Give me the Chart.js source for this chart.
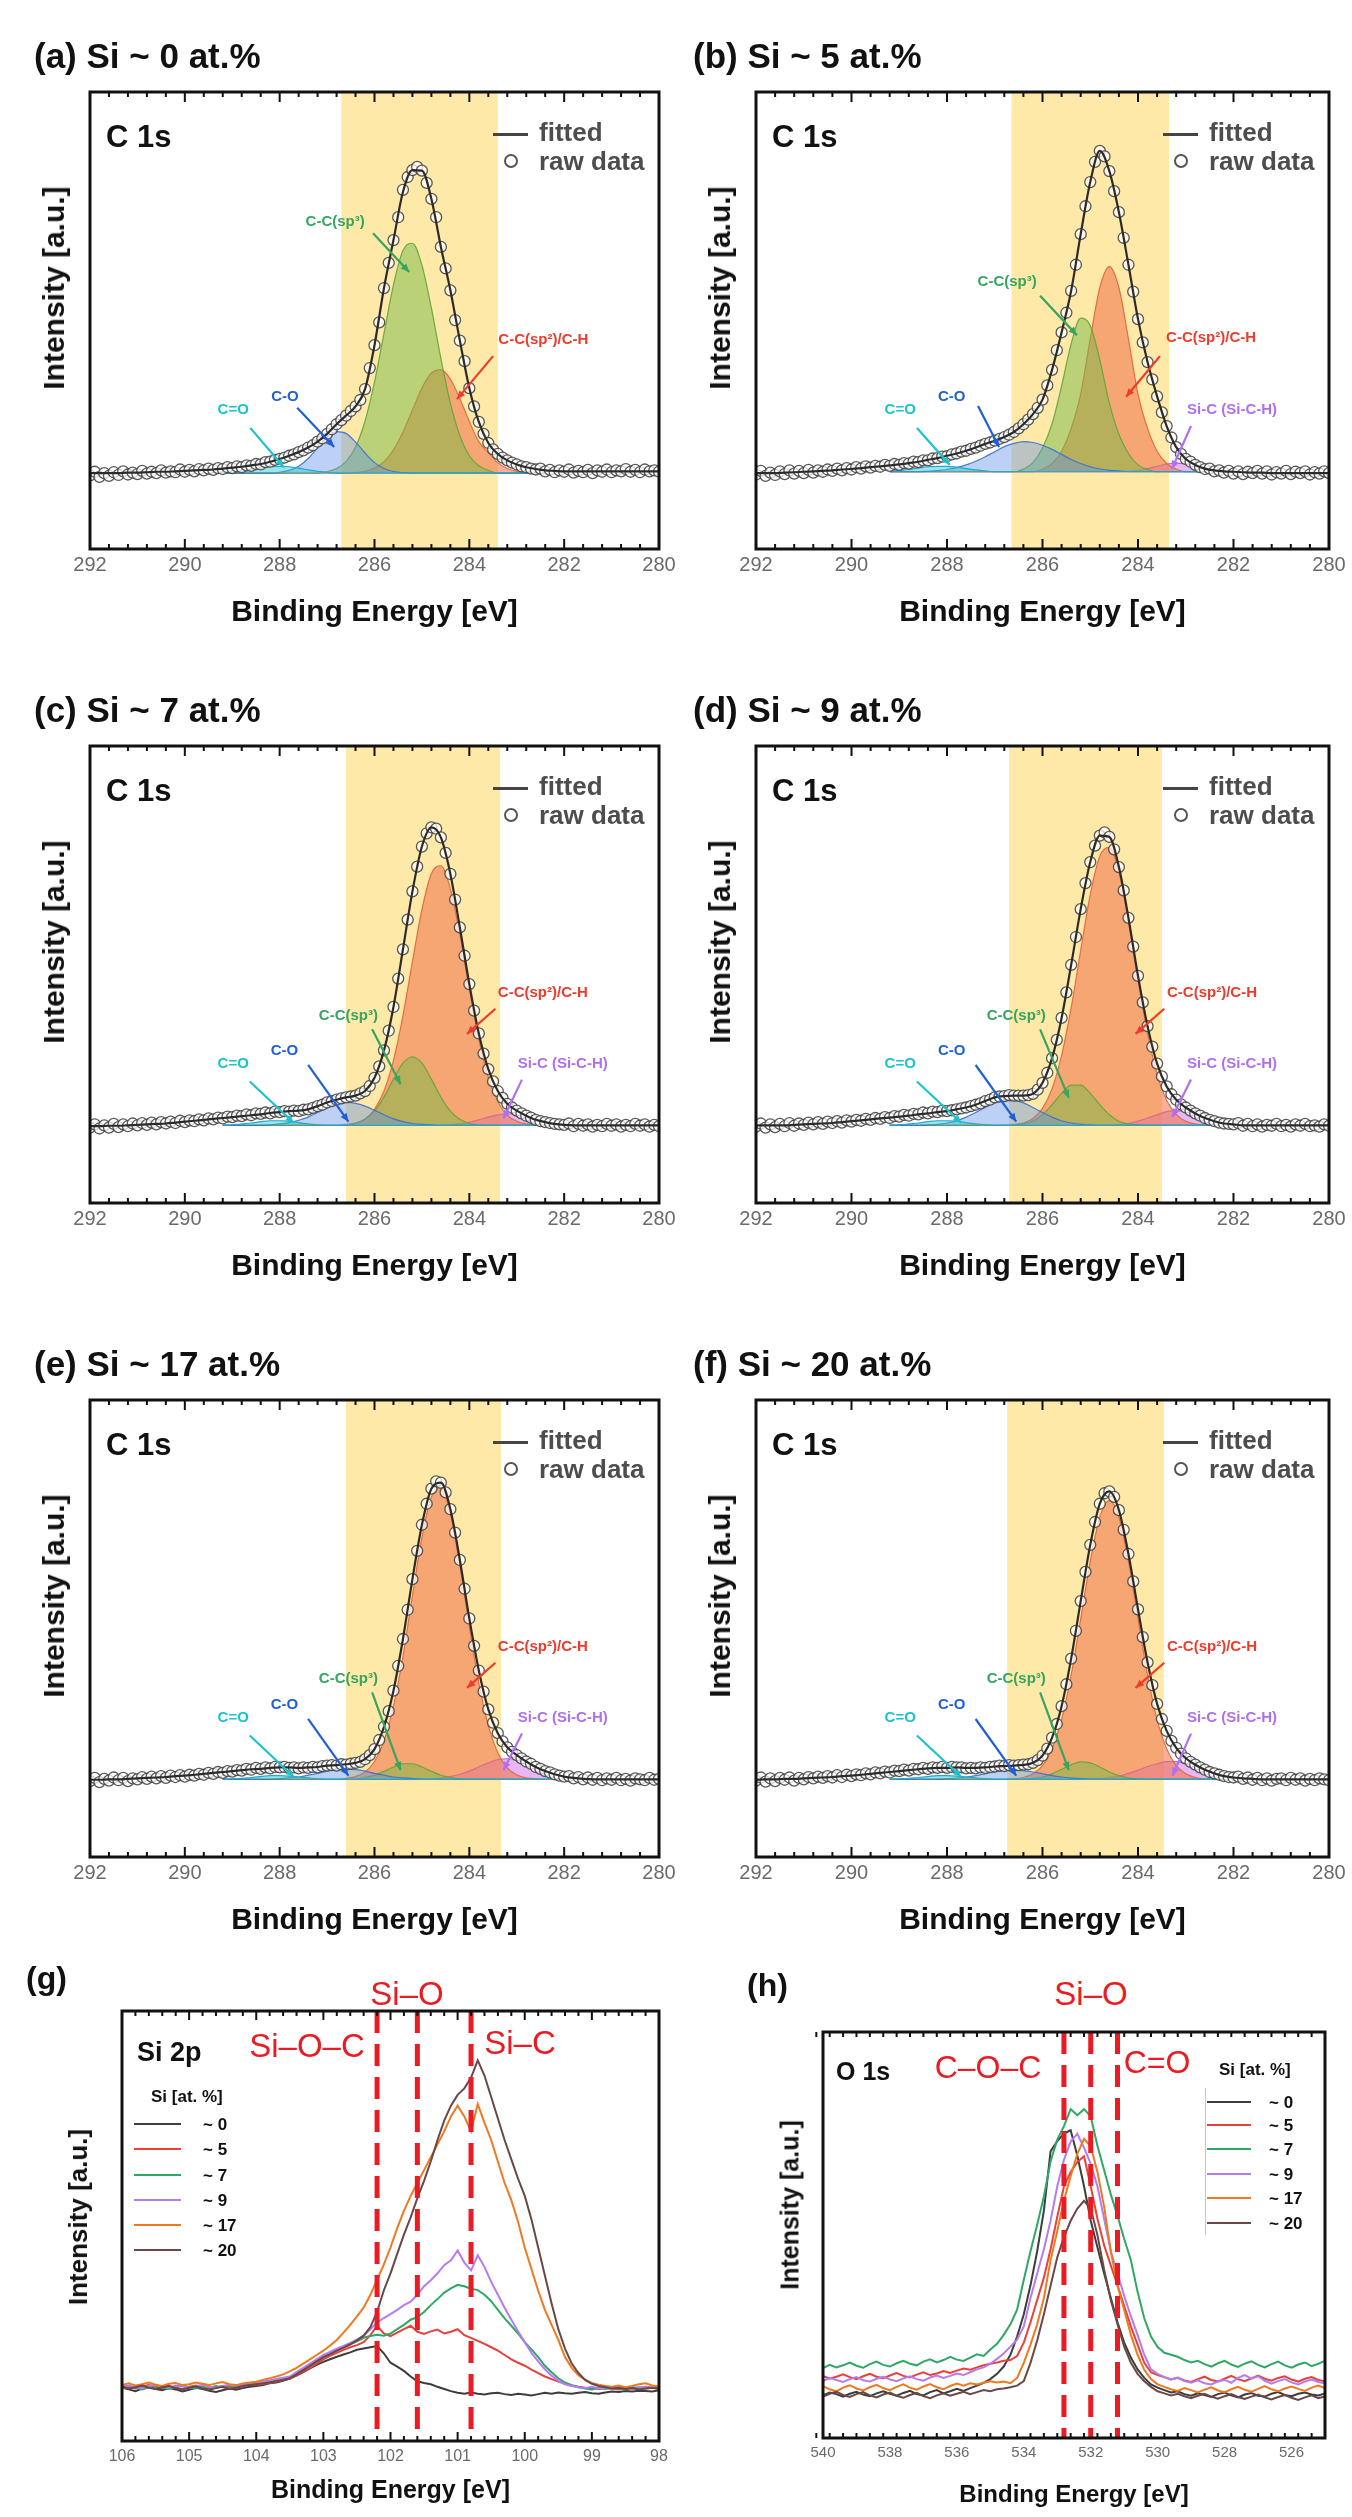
<!DOCTYPE html>
<html><head><meta charset="utf-8"><title>XPS spectra</title>
<script src="https://cdn.jsdelivr.net/npm/chart.js@4.4.1/dist/chart.umd.min.js"></script>
<style>
html,body{margin:0;padding:0;background:#fff}
body{position:relative;width:1352px;height:2517px;overflow:hidden;font-family:'Liberation Sans',Arial,Helvetica,sans-serif}
canvas{position:absolute}
.t{position:absolute;white-space:nowrap;line-height:1}
</style></head><body>
<script>
// ---------------- DATA ----------------
const c1sTicks = [292,290,288,286,284,282,280];
const si2pTicks = [106,105,104,103,102,101,100,99,98];
const o1sTicks = [540,538,536,534,532,530,528,526];
const siLabels = ['~ 0','~ 5','~ 7','~ 9','~ 17','~ 20'];
const panelTitles = ['(a) Si ~ 0 at.%','(b) Si ~ 5 at.%','(c) Si ~ 7 at.%','(d) Si ~ 9 at.%','(e) Si ~ 17 at.%','(f) Si ~ 20 at.%'];

// C 1s raw data: 292.0 -> 280.0 eV, step 0.1 (height above fit baseline, % of frame)
const rawA = [-0.5,0.3,-0.8,0.0,-0.6,0.2,-0.4,0.4,-0.3,0.1,
 -0.2,0.5,-0.1,0.3,0.0,0.6,0.1,0.4,0.2,0.8,
 0.3,0.7,0.4,0.9,0.6,1.0,0.7,1.1,0.9,1.3,
 1.1,1.5,1.3,1.7,1.6,2.0,1.9,2.4,2.5,2.9,
 3.1,3.4,3.8,4.1,4.6,5.0,5.6,6.1,6.9,7.6,
 8.6,9.6,10.7,11.6,12.6,13.6,14.6,16.0,18.4,23.0,
 28.0,33.0,40.5,46.0,51.0,56.0,62.0,64.8,66.3,67.0,
 66.2,63.5,60.0,56.0,49.5,44.8,40.0,33.5,29.0,24.5,
 18.6,14.6,11.2,8.6,6.6,5.2,4.2,3.4,2.8,2.3,
 1.9,1.5,1.3,1.0,0.8,1.0,0.4,0.7,0.2,0.6,
 0.3,0.8,0.1,0.5,0.2,0.7,0.0,0.6,0.3,0.8,
 0.2,0.6,0.4,0.9,0.3,0.7,0.2,0.8,0.4,0.6,
 0.3];
const rawB = [-0.6,0.2,-0.9,-0.2,-0.7,0.1,-0.5,0.3,-0.4,0.2,
 -0.3,0.4,-0.2,0.3,0.0,0.5,0.2,0.7,0.3,0.8,
 0.5,1.0,0.7,1.2,0.9,1.3,1.1,1.5,1.3,1.7,
 1.5,1.9,1.8,2.2,2.1,2.5,2.5,2.9,3.0,3.3,
 3.4,3.8,4.0,4.4,4.6,5.0,5.3,5.7,6.1,6.4,
 6.8,7.2,7.6,8.1,8.7,9.5,10.4,11.4,12.6,14.0,
 15.8,18.9,22.3,26.6,30.5,34.8,39.6,45.3,52.0,58.1,
 63.4,67.8,70.2,69.0,65.8,61.4,56.8,51.2,45.3,39.4,
 33.4,28.3,24.0,20.2,16.5,13.0,10.0,7.5,5.4,3.9,
 2.8,2.2,1.5,1.0,0.6,0.7,0.1,0.3,-0.2,0.2,
 -0.4,0.1,-0.5,0.0,-0.3,0.2,-0.4,0.1,-0.6,-0.1,
 -0.4,0.2,-0.5,0.0,-0.3,0.1,-0.6,-0.1,-0.4,0.1,
 -0.3];
const rawC = [-0.5,0.2,-0.7,0.0,-0.5,0.3,-0.4,0.2,-0.2,0.4,
 0.0,0.5,0.1,0.6,0.2,0.7,0.4,0.8,0.5,1.0,
 0.7,1.1,0.9,1.3,1.1,1.5,1.3,1.7,1.5,1.9,
 1.8,2.1,2.0,2.4,2.2,2.6,2.5,2.8,2.6,3.0,
 2.9,3.1,3.0,3.2,3.1,3.4,3.5,3.8,4.2,4.5,
 5.0,5.3,5.6,5.9,6.1,6.3,6.5,7.0,7.5,8.6,
 10.4,12.9,16.4,20.7,25.9,32.1,38.5,45.0,51.2,56.6,
 61.0,63.9,65.2,64.9,63.0,59.6,55.0,49.4,43.3,37.1,
 30.9,25.1,20.1,15.7,12.3,9.6,7.5,6.0,4.7,3.9,
 3.2,2.6,2.1,1.7,1.2,0.9,0.7,0.5,0.3,0.2,
 0.1,0.4,-0.2,0.3,-0.1,0.2,-0.3,0.1,-0.2,0.3,
 -0.1,0.2,-0.3,0.1,-0.2,0.3,-0.1,0.2,-0.3,0.1,
 -0.2];
const rawD = [-0.3,0.4,-0.5,0.2,-0.4,0.3,-0.2,0.5,-0.1,0.4,
 0.1,0.6,0.2,0.7,0.3,0.8,0.5,0.9,0.6,1.1,
 0.8,1.2,1.0,1.4,1.2,1.6,1.4,1.8,1.6,2.0,
 1.9,2.3,2.1,2.5,2.4,2.8,2.6,3.0,2.9,3.2,
 3.1,3.3,3.5,3.7,3.9,4.2,4.5,4.8,5.3,5.6,
 6.1,6.3,6.4,6.6,6.5,6.5,6.5,6.6,6.9,7.8,
 9.3,11.5,14.7,18.7,23.5,29.1,35.1,41.2,47.3,53.0,
 57.6,61.2,63.4,64.1,63.1,60.4,56.5,51.4,45.4,39.1,
 32.7,26.9,21.7,17.2,13.5,10.7,8.5,6.8,5.6,4.6,
 3.9,3.2,2.6,2.1,1.6,1.2,0.9,0.6,0.4,0.3,
 0.2,0.5,-0.1,0.3,-0.2,0.2,-0.3,0.1,-0.1,0.3,
 -0.2,0.1,-0.3,0.2,-0.1,0.3,-0.2,0.0,-0.3,0.2,
 -0.1];
const rawE = [-0.4,0.3,-0.6,0.1,-0.3,0.4,-0.2,0.3,-0.4,0.2,
 0.0,0.5,0.1,0.6,0.2,0.7,0.3,0.8,0.5,0.9,
 0.6,1.0,0.8,1.2,1.0,1.4,1.2,1.6,1.4,1.8,
 1.7,2.0,1.9,2.3,2.1,2.5,2.3,2.6,2.4,2.7,
 2.6,2.7,2.5,2.6,2.4,2.6,2.5,2.7,2.6,2.9,
 3.0,3.1,3.0,3.3,3.2,3.4,3.6,3.8,4.4,5.3,
 6.6,8.6,11.5,14.9,19.4,24.8,30.7,37.1,43.8,50.0,
 55.7,60.3,63.6,65.2,64.9,62.8,59.1,54.0,48.0,41.7,
 35.2,29.2,23.8,19.2,15.3,12.4,10.1,8.3,7.0,6.0,
 5.3,4.6,3.9,3.4,2.7,2.3,1.8,1.5,1.1,0.8,
 0.6,0.7,0.2,0.5,0.0,0.4,-0.1,0.3,-0.2,0.2,
 -0.1,0.3,-0.2,0.1,-0.3,0.2,0.0,-0.2,0.3,-0.1,
 0.1];
const rawF = [-0.3,0.4,-0.5,0.2,-0.4,0.3,-0.1,0.4,-0.3,0.3,
 0.0,0.5,0.2,0.6,0.3,0.7,0.4,0.9,0.5,1.0,
 0.7,1.1,0.9,1.3,1.1,1.5,1.3,1.7,1.5,1.9,
 1.8,2.1,1.9,2.3,2.2,2.5,2.3,2.6,2.5,2.7,
 2.5,2.7,2.6,2.6,2.4,2.5,2.4,2.6,2.5,2.7,
 2.8,3.0,2.9,3.1,3.0,3.1,3.2,3.3,3.6,4.2,
 5.2,6.7,9.1,12.1,16.0,20.8,26.4,32.5,39.0,45.4,
 51.3,56.3,60.3,62.6,63.0,61.8,58.9,54.6,49.3,43.3,
 37.2,31.1,25.6,20.6,16.5,13.2,10.6,8.4,6.9,5.6,
 4.6,3.8,3.2,2.6,2.1,1.6,1.3,1.0,0.7,0.5,
 0.4,0.6,0.1,0.4,-0.1,0.3,-0.2,0.2,-0.3,0.1,
 0.2,-0.2,0.3,-0.1,0.2,-0.3,0.1,-0.2,0.2,0.0,
 -0.2];

// C 1s fitted envelope: 292.0 -> 280.0 eV, step 0.2
const fitA = [0,0,0,0,0.1,0.1,0.2,0.3,0.3,0.4,
 0.5,0.6,0.7,0.8,1.0,1.2,1.4,1.7,2.0,2.5,
 3.1,3.8,4.6,5.6,6.9,8.6,10.7,12.6,14.6,18.4,
 28.0,40.5,51.0,61.5,66.3,66.2,60.0,49.5,40.0,29.0,
 18.6,11.2,6.6,4.2,2.8,1.9,1.3,0.9,0.6,0.5,
 0.4,0.4,0.4,0.4,0.4,0.4,0.4,0.4,0.4,0.4,0.4];
const fitB = [-0.3,-0.3,-0.3,-0.2,-0.1,0,0.1,0.2,0.3,0.5,
 0.6,0.8,1.0,1.2,1.4,1.6,1.9,2.2,2.6,3.0,
 3.5,4.0,4.6,5.3,6.1,6.8,7.6,8.7,10.4,12.6,
 15.8,22.3,30.5,39.6,52.0,63.4,70.2,65.8,56.8,45.3,
 33.4,24.0,16.5,10.0,5.4,2.8,1.5,0.7,0.3,0.1,
 0,-0.1,-0.2,-0.2,-0.3,-0.3,-0.3,-0.3,-0.3,-0.3,-0.3];
const fitC = [-0.2,-0.2,-0.1,-0.1,0,0.1,0.2,0.3,0.4,0.6,
 0.8,1.0,1.2,1.4,1.6,1.8,2.0,2.2,2.4,2.7,
 2.9,3.1,3.2,3.5,4.2,5.0,5.6,6.1,6.5,7.5,
 10.4,16.4,25.9,38.5,51.2,61.0,65.2,63.0,55.0,43.3,
 30.9,20.1,12.3,7.5,4.7,3.2,2.1,1.2,0.7,0.3,
 0.1,0,0,0,0,0,0,0,0,0,0];
const fitD = [0,0,0,0,0.1,0.2,0.3,0.4,0.5,0.7,
 0.9,1.1,1.3,1.5,1.7,1.9,2.1,2.4,2.6,2.9,
 3.1,3.5,3.9,4.5,5.3,6.1,6.4,6.5,6.5,6.9,
 9.3,14.7,23.5,35.1,47.3,57.6,63.4,63.1,56.5,45.4,
 32.7,21.7,13.5,8.5,5.6,3.9,2.6,1.6,0.9,0.4,
 0.2,0,0,0,0,0,0,0,0,0,0];
const fitE = [-0.1,-0.1,0,0,0.1,0.2,0.3,0.4,0.5,0.7,
 0.8,1.0,1.2,1.4,1.6,1.8,2.0,2.2,2.3,2.5,
 2.6,2.6,2.5,2.6,2.7,3.0,3.1,3.3,3.6,4.4,
 6.6,11.5,19.4,30.7,43.8,55.7,63.6,64.9,59.1,48.0,
 35.2,23.8,15.3,10.1,7.0,5.3,3.9,2.7,1.8,1.1,
 0.6,0.3,0.1,0,0,0,0,0,0,0,0];
const fitF = [-0.1,0,0,0.1,0.1,0.2,0.3,0.4,0.5,0.7,
 0.8,1.0,1.2,1.4,1.6,1.8,2.0,2.2,2.4,2.5,
 2.5,2.6,2.5,2.5,2.6,2.8,2.9,3.0,3.15,3.6,
 5.2,9.1,16.0,26.4,39.0,51.3,60.3,63.0,58.9,49.3,
 37.2,25.6,16.5,10.6,6.9,4.6,3.2,2.1,1.3,0.7,
 0.4,0.2,0.1,0,0,0,0,0,0,0,0];

// Fitted components: 289.2 -> 282.0 eV, step 0.2
const sp3A = [0,0,0,0,0,0,0,0,0,0,0,0.3,1.0,2.5,5.7,11.4,19.9,30.6,41.2,48.7,50.3,45.5,36.1,25.1,15.3,8.2,3.8,1.6,0.6,0,0,0,0,0,0,0,0];
const sp2A = [0,0,0,0,0,0,0,0,0,0,0,0,0,0,0.1,0.4,1.1,2.5,5.1,9.0,13.8,18.6,21.9,22.6,20.6,16.3,11.3,6.9,4.5,2.3,1.0,0.4,0,0,0,0,0];
const coA  = [0,0,0,0,0,0,0.2,0.6,1.5,3.2,5.6,7.9,9.1,8.7,6.8,4.4,2.3,1.0,0.35,0.1,0,0,0,0,0,0,0,0,0,0,0,0,0,0,0,0,0];
const c2oA = [0,0.2,0.4,0.7,1.1,1.4,1.5,1.4,1.1,0.7,0.4,0.2,0,0,0,0,0,0,0,0,0,0,0,0,0,0,0,0,0,0,0,0,0,0,0,0,0];

const sp3B = [0,0,0,0,0,0,0,0,0,0,0,0,0,0,0.6,2.0,5.2,10.5,18.8,28.0,33.6,32.0,24.5,15.0,8.2,4.0,1.5,0.5,0,0,0,0,0,0,0,0,0];
const sp2B = [0,0,0,0,0,0,0,0,0,0,0,0,0,0,0,0,0.6,1.8,4.5,9.5,17.0,29.1,40.3,44.9,40.3,29.1,17.0,9.5,4.5,1.8,0.6,0,0,0,0,0,0];
const coB  = [0,0,0,0,0.1,0.25,0.5,0.9,1.5,2.3,3.3,4.4,5.5,6.2,6.6,6.4,5.8,4.9,3.8,2.7,1.8,1.1,0.6,0.3,0.2,0,0,0,0,0,0,0,0,0,0,0,0];
const c2oB = [0.1,0.3,0.5,0.8,1.1,1.2,1.2,1.0,0.7,0.4,0.2,0,0,0,0,0,0,0,0,0,0,0,0,0,0,0,0,0,0,0,0,0,0,0,0,0,0];
const sicB = [0,0,0,0,0,0,0,0,0,0,0,0,0,0,0,0,0,0,0,0,0,0,0,0,0,0.1,0.3,0.7,1.2,1.7,1.9,1.7,1.2,0.7,0.3,0.1,0];

const sp3C = [0,0,0,0,0,0,0,0,0,0,0,0,0,0,0.4,1.3,3.1,6.2,10.1,13.6,15,13.6,10.1,6.2,3.1,1.3,0.4,0.1,0,0,0,0,0,0,0,0,0];
const sp2C = [0,0,0,0,0,0,0,0,0,0,0,0,0,0.2,0.5,1.4,3.5,7.5,14.2,24.0,35.8,47.2,55.1,56.8,51.8,41.7,29.8,18.8,10.5,5.2,2.2,0.9,0.3,0.1,0,0,0];
const coC  = [0,0,0,0,0,0.1,0.3,0.6,1.1,1.8,2.8,3.8,4.6,5.0,4.8,4.2,3.3,2.3,1.4,0.8,0.4,0.2,0.1,0,0,0,0,0,0,0,0,0,0,0,0,0,0];
const c2oC = [0,0.1,0.3,0.5,0.8,1.0,1.0,0.9,0.6,0.3,0.1,0,0,0,0,0,0,0,0,0,0,0,0,0,0,0,0,0,0,0,0,0,0,0,0,0,0];
const sicC = [0,0,0,0,0,0,0,0,0,0,0,0,0,0,0,0,0,0,0,0,0,0,0,0,0.1,0.3,0.7,1.2,1.8,2.3,2.5,2.3,1.8,1.2,0.7,0.3,0.1];

const sp3D = [0,0,0,0,0,0,0,0,0,0,0,0,0,0,0.3,0.9,2.3,4.5,7.0,8.8,8.8,7.0,4.5,2.3,0.9,0.3,0.1,0,0,0,0,0,0,0,0,0,0];
const sp2D = [0,0,0,0,0,0,0,0,0,0,0,0,0,0.2,0.5,1.5,3.7,8.0,15.3,25.7,38.3,50.5,58.9,60.8,55.4,44.7,31.8,20.1,11.2,5.5,2.4,0.9,0.3,0.1,0,0,0];
const coD  = [0,0,0,0,0.1,0.2,0.5,1.0,1.8,2.8,3.9,4.9,5.4,5.4,4.9,3.9,2.8,1.8,1.0,0.5,0.2,0.1,0,0,0,0,0,0,0,0,0,0,0,0,0,0,0];
const c2oD = [0,0.1,0.3,0.5,0.8,1.0,1.0,0.9,0.6,0.3,0.1,0,0,0,0,0,0,0,0,0,0,0,0,0,0,0,0,0,0,0,0,0,0,0,0,0,0];
const sicD = [0,0,0,0,0,0,0,0,0,0,0,0,0,0,0,0,0,0,0,0,0,0,0,0,0.2,0.4,0.9,1.6,2.3,3.0,3.2,3.0,2.3,1.6,0.9,0.4,0.2];

const sp3E = [0,0,0,0,0,0,0,0,0,0,0,0,0,0,0,0.4,0.9,1.75,2.7,3.4,3.4,2.7,1.75,0.9,0.4,0.1,0,0,0,0,0,0,0,0,0,0,0];
const sp2E = [0,0,0,0,0,0,0,0,0,0,0,0,0,0.2,0.6,1.6,3.9,8.4,16.0,26.9,40.2,53.0,61.8,63.7,58.1,46.8,33.4,21.1,11.7,5.8,2.5,1.0,0.3,0.1,0,0,0];
const coE  = [0,0,0,0,0,0,0.15,0.3,0.5,0.9,1.3,1.8,2.1,2.2,2.1,1.8,1.3,0.9,0.5,0.3,0.15,0.05,0,0,0,0,0,0,0,0,0,0,0,0,0,0,0];
const c2oE = [0,0.1,0.2,0.4,0.6,0.8,0.8,0.7,0.5,0.3,0.1,0,0,0,0,0,0,0,0,0,0,0,0,0,0,0,0,0,0,0,0,0,0,0,0,0,0];
const sicE = [0,0,0,0,0,0,0,0,0,0,0,0,0,0,0,0,0,0,0,0,0,0,0.1,0.3,0.6,1.1,1.8,2.7,3.6,4.3,4.5,4.3,3.6,2.7,1.8,1.1,0.6];

const sp3F = [0,0,0,0,0,0,0,0,0,0,0,0,0,0,0,0.2,0.5,1.2,2.2,3.2,3.8,3.6,2.7,1.6,0.8,0.3,0.1,0,0,0,0,0,0,0,0,0,0];
const sp2F = [0,0,0,0,0,0,0,0,0,0,0,0,0,0.1,0.4,1.2,3.0,6.7,13.1,22.8,35.1,47.7,57.4,61,57.4,47.7,35.1,22.8,13.1,6.7,3.0,1.2,0.4,0.1,0,0,0];
const coF  = [0,0,0,0,0,0,0.13,0.27,0.5,0.8,1.2,1.6,1.9,2.0,1.9,1.6,1.2,0.8,0.5,0.27,0.13,0.05,0,0,0,0,0,0,0,0,0,0,0,0,0,0,0];
const c2oF = [0,0.1,0.2,0.4,0.6,0.8,0.8,0.7,0.5,0.3,0.1,0,0,0,0,0,0,0,0,0,0,0,0,0,0,0,0,0,0,0,0,0,0,0,0,0,0];
const sicF = [0,0,0,0,0,0,0,0,0,0,0,0,0,0,0,0,0,0,0,0,0,0.05,0.17,0.4,0.7,1.3,2.0,2.8,3.4,3.85,3.85,3.4,2.8,2.0,1.3,0.7,0.4];

// highlighted (yellow) energy windows
const bandA = [286.7,283.4], bandB = [286.65,283.35], bandC = [286.6,283.35];
const bandD = [286.7,283.5], bandE = [286.6,283.33], bandF = [286.74,283.46];

// Si 2p: 106.0 -> 98.0 eV, step 0.1 (% of frame height)
const si2p0 = [12.4,12.0,11.6,12.2,12.6,12.1,11.8,12.3,12.0,11.5,
 11.9,12.4,12.1,11.7,11.4,11.8,12.2,11.9,12.3,12.6,
 12.8,13.0,13.4,13.6,14.0,14.5,15.2,16.0,16.9,17.7,
 18.4,19.0,19.6,20.1,20.6,21.2,21.5,21.8,22.1,20.4,
 18.2,17.3,16.3,15.0,13.9,13.5,13.2,12.6,12.1,11.6,
 11.2,11.0,11.3,11.0,10.8,11.1,11.2,10.9,10.7,11.0,
 10.8,10.6,10.9,11.2,11.0,11.3,11.1,11.0,11.2,11.4,
 11.1,11.0,11.3,11.5,11.4,11.6,11.5,11.7,11.6,11.5,11.8];
const si2p5 = [12.9,12.5,12.2,12.7,13.0,12.6,12.3,12.8,12.4,12.1,
 12.6,12.9,12.5,12.2,12.4,12.8,12.6,12.3,12.7,13.0,
 13.1,13.3,13.5,13.8,14.1,14.5,15.3,16.2,17.0,18.0,
 19.0,19.8,20.5,21.2,21.8,22.3,23.0,24.6,26.8,25.0,
 24.4,25.2,26.0,26.8,25.4,24.9,25.5,25.9,25.0,25.4,
 26.0,24.6,24.0,23.3,22.6,21.8,21.0,20.0,19.0,18.2,
 17.5,16.6,15.8,15.0,14.4,13.8,13.3,12.9,12.6,12.4,
 12.3,12.1,12.4,12.2,12.0,12.3,12.5,12.2,12.6,12.4,12.3];
const si2p7 = [12.2,12.7,12.4,12.0,12.5,12.8,12.4,12.1,12.6,12.9,
 12.5,12.2,12.6,12.4,12.8,12.5,12.3,12.7,12.9,13.1,
 13.3,13.5,13.8,14.1,14.4,14.8,15.7,16.6,17.5,18.5,
 19.5,20.2,21.0,21.8,22.5,23.2,24.0,24.4,24.7,24.5,
 25.0,26.0,27.0,28.2,28.8,30.0,31.6,33.0,34.5,35.5,
 36.3,36.0,35.4,35.1,34.0,32.5,30.5,28.5,26.8,25.0,
 23.0,21.3,19.5,17.5,16.0,14.6,13.6,13.0,12.5,12.2,
 12.0,12.3,12.1,12.4,12.2,12.0,12.3,12.5,12.2,12.4,12.1];
const si2p9 = [12.6,12.9,12.5,12.3,12.8,13.0,12.6,12.4,12.9,12.7,
 12.4,12.8,13.0,12.6,12.4,12.8,13.1,12.9,13.2,13.4,
 13.6,13.8,14.1,14.4,14.7,15.0,16.0,17.0,18.0,19.0,
 20.0,20.7,21.5,22.1,22.8,23.6,24.5,26.0,27.6,28.6,
 29.5,30.5,31.6,32.4,34.0,36.0,37.4,39.0,40.9,42.0,
 44.3,41.5,39.7,43.2,40.5,37.0,34.0,31.0,28.2,25.5,
 23.0,20.5,18.5,16.7,15.2,14.0,13.2,12.8,12.5,12.3,
 12.6,12.2,12.4,12.1,12.5,12.3,12.1,12.4,12.6,12.3,12.5];
const si2p17 = [13.0,13.4,12.9,13.2,13.6,13.1,12.8,13.3,13.5,13.0,
 13.2,13.6,13.3,13.0,13.4,13.7,13.2,13.0,13.4,13.6,
 13.8,14.2,14.6,15.0,15.5,16.2,17.0,18.0,19.0,20.0,
 21.0,22.2,23.5,25.2,27.0,29.0,31.0,34.0,37.5,41.0,
 45.0,49.5,53.5,57.0,60.0,63.0,66.0,69.0,72.0,75.5,
 78.0,75.5,72.0,78.4,74.0,70.0,65.0,60.0,56.0,51.0,
 45.0,40.0,35.0,30.5,27.0,23.5,19.5,17.0,15.3,14.2,
 13.5,13.1,12.8,12.6,12.9,12.5,12.8,13.2,13.4,12.9,12.7];
const si2p20 = [12.6,12.2,12.5,12.9,12.4,12.1,12.5,12.8,12.3,12.0,
 12.4,12.7,12.2,11.9,12.3,12.6,12.1,12.4,12.8,13.0,
 13.2,13.4,13.6,13.9,14.2,14.6,15.5,16.5,17.5,18.5,
 19.5,20.2,21.0,21.7,22.5,23.4,24.5,26.5,30.0,35.0,
 39.0,43.5,48.0,52.0,56.5,60.5,65.0,70.0,74.5,78.0,
 80.5,82.0,84.5,88.5,85.0,80.0,75.0,70.0,65.5,61.0,
 57.0,51.5,45.0,38.5,32.0,26.0,21.5,18.0,15.8,14.2,
 13.3,12.8,12.5,12.2,12.4,12.1,12.3,12.0,12.2,12.4,12.2];
const si2pRefs = [102.2,101.6,100.8];

// O 1s: 540.0 -> 525.0 eV, step 0.2 (% of frame height)
const o1s0 = [10.5,11.2,10.8,10.2,10.9,11.4,10.7,10.3,11.0,11.5,
 10.9,10.4,11.1,11.6,10.8,10.5,11.3,11.8,11.0,11.5,
 12.1,11.6,12.3,12.9,13.6,14.5,15.8,17.6,20.5,25.0,
 30.5,37.6,46.0,56.0,70.6,73.1,75.0,75.8,69.5,62.0,
 53.5,47.0,40.5,34.5,28.5,23.5,19.8,16.9,14.8,13.2,
 12.4,11.8,11.2,11.5,10.8,10.4,11.0,10.6,10.1,10.8,
 11.2,10.5,10.0,10.7,11.1,10.4,10.2,10.9,11.3,10.6,
 10.3,10.9,11.2,10.7,10.5,11.0];
const o1s5 = [15.3,14.6,15.1,15.7,15.0,14.5,15.2,15.8,15.1,14.7,
 15.4,16.0,15.3,14.9,15.6,16.2,15.5,15.9,16.5,16.0,
 16.6,17.1,16.8,17.4,17.9,18.3,18.6,19.0,19.2,20.2,
 23.5,28.5,34.0,39.5,46.5,54.5,62.0,65.5,68.0,69.4,
 62.0,54.0,47.5,42.5,37.6,32.5,27.5,23.0,18.5,16.2,
 15.5,15.0,14.4,14.9,14.2,13.8,14.5,15.1,14.3,13.9,
 14.6,15.3,14.5,14.0,14.7,15.4,14.6,14.1,14.8,15.2,
 14.4,13.9,14.6,15.0,14.3,14.0];
const o1s7 = [17.2,18.0,17.4,17.9,18.6,17.8,17.3,18.2,18.8,18.0,
 17.6,18.4,19.0,18.3,17.9,18.8,19.4,18.6,19.2,20.0,
 19.3,19.0,19.8,20.6,20.2,21.8,23.2,25.4,28.0,31.6,
 39.0,46.0,52.5,59.5,68.1,73.5,76.8,81.0,79.5,81.0,
 79.2,72.0,66.0,60.0,54.7,49.0,43.8,36.0,29.5,25.0,
 22.4,21.0,20.5,20.0,19.2,18.6,19.0,18.2,17.6,18.4,
 19.0,18.1,17.5,18.3,18.9,18.0,17.4,18.2,18.8,17.9,
 17.3,18.1,18.6,17.7,18.3,19.0];
const o1s9 = [14.0,14.8,14.3,13.8,14.5,15.0,14.2,13.9,14.6,15.1,
 14.4,14.0,14.7,15.2,14.5,14.1,14.9,15.4,14.8,15.3,
 15.9,15.5,16.2,16.9,17.4,18.3,19.5,20.8,22.5,24.2,
 27.5,34.5,40.5,46.5,53.5,62.0,68.5,73.0,74.9,71.5,
 67.5,62.0,54.0,46.0,40.5,35.0,30.0,25.4,20.5,16.9,
 15.8,15.0,14.4,14.8,14.0,13.6,14.2,13.5,13.2,13.9,
 14.3,13.6,14.8,15.5,14.6,15.2,14.1,13.4,14.0,14.5,
 13.7,13.2,13.9,14.4,13.8,13.5];
const o1s17 = [12.8,12.0,11.5,12.4,13.0,12.2,11.7,12.5,13.1,12.3,
 11.8,12.6,13.2,12.4,11.9,12.7,13.3,12.5,12.0,12.8,
 13.4,12.9,13.5,13.2,13.6,14.0,13.7,13.9,13.5,14.8,
 18.5,23.0,28.0,34.5,43.8,51.0,58.5,64.5,70.0,73.7,
 71.8,65.5,57.0,46.0,37.6,31.5,25.4,20.5,16.8,14.5,
 13.2,12.6,12.0,11.6,12.3,11.8,11.2,11.9,12.5,11.7,
 11.3,12.0,12.6,11.9,11.4,12.1,12.8,12.0,11.5,12.2,
 12.7,12.1,11.6,12.4,12.9,12.3];
const o1s20 = [10.2,10.9,11.4,10.6,10.1,10.8,11.3,10.5,10.0,10.7,
 11.2,10.4,9.9,10.6,11.1,10.3,9.8,10.5,11.0,10.4,
 10.9,11.4,10.8,11.3,11.8,11.5,12.0,12.2,12.5,12.9,
 14.0,18.5,24.0,30.5,37.5,44.5,49.5,53.5,56.5,58.4,
 56.5,50.0,41.5,34.0,28.0,22.5,18.5,15.8,14.0,12.6,
 11.5,11.0,10.5,10.9,10.3,9.8,10.4,10.9,10.2,9.7,
 10.3,10.8,10.1,9.6,10.2,10.7,10.0,9.5,10.1,10.6,
 9.9,9.4,10.0,10.5,9.8,10.2];
const o1sRefs = [532.8,532.0,531.2];

// ---------------- STYLE / HELPERS ----------------
const FONT = "'Liberation Sans', Arial, Helvetica, sans-serif";
const seriesColors = ['#3d3d3d','#e8403a','#2fa865','#b57cf0','#f0781e','#6a4848'];
const REFRED = '#ea1b22';
const GREEN='#35a55f', RED='#ee3b2b', BLUE='#1f5fd8', CYAN='#1cc2ce', PURPLE='#b070ee';
const compStyle = {
  c2o:{fill:'rgba(40,195,210,0.45)', line:'rgba(30,170,200,1)'},
  co: {fill:'rgba(95,145,230,0.42)', line:'rgba(60,110,210,0.9)'},
  sp3:{fill:'rgba(118,186,70,0.5)',  line:'rgba(95,165,55,0.9)'},
  sp2:{fill:'rgba(240,118,78,0.58)', line:'rgba(225,100,60,0.9)'},
  sic:{fill:'rgba(205,110,235,0.5)', line:'rgba(180,90,220,0.9)'}
};
function grid(start, step, n){ const a=[]; for(let i=0;i<n;i++) a.push(+(start - i*step).toFixed(3)); return a; }
function pts(xs, ys){ return ys.map((y,i)=>({x:xs[i], y:y})); }
function mkCanvas(left, top, w, h){
  const c=document.createElement('canvas'); c.width=w; c.height=h;
  Object.assign(c.style,{left:left+'px',top:top+'px',width:w+'px',height:h+'px'});
  document.body.appendChild(c); return c;
}
function txt(s, x, y, size, o){
  o=o||{}; const d=document.createElement('div'); d.className='t'; d.textContent=s;
  Object.assign(d.style,{left:x+'px',top:y+'px',fontSize:size+'px',fontWeight:o.bold?'700':'400',color:o.color||'#111'});
  let tf = o.center ? 'translate(-50%,-50%)' : 'translateY(-50%)';
  if(o.rot) tf += ' rotate(-90deg)';
  d.style.transform=tf; document.body.appendChild(d); return d;
}
function box(x,y,w,h,st){ const d=document.createElement('div'); Object.assign(d.style,{position:'absolute',left:x+'px',top:y+'px',width:w+'px',height:h+'px'},st); document.body.appendChild(d); }

const bandPlugin = { id:'band', beforeDatasetsDraw(chart, args, o){
  if(!o || !o.range) return; const {ctx, chartArea:a, scales:{x}} = chart;
  const x1=x.getPixelForValue(o.range[0]), x2=x.getPixelForValue(o.range[1]);
  ctx.save(); ctx.fillStyle=o.color; ctx.fillRect(Math.min(x1,x2), a.top, Math.abs(x2-x1), a.bottom-a.top); ctx.restore(); } };
const framePlugin = { id:'frame', afterDatasetsDraw(chart, args, o){
  const {ctx, chartArea:a, scales:{x}} = chart;
  ctx.save(); ctx.strokeStyle='#111'; ctx.lineWidth=3;
  ctx.strokeRect(a.left, a.top, a.right-a.left, a.bottom-a.top);
  ctx.lineWidth=2;
  const lo=Math.min(x.min,x.max), hi=Math.max(x.min,x.max); const n=Math.round((hi-lo)/o.minor);
  for(let i=0;i<=n;i++){ const v=lo+i*o.minor; const r=v/o.major; const major=Math.abs(r-Math.round(r))<1e-6;
    const L=major?o.majorLen:o.minorLen; const px=x.getPixelForValue(v);
    ctx.beginPath(); ctx.moveTo(px,a.bottom); ctx.lineTo(px,a.bottom-L); ctx.moveTo(px,a.top); ctx.lineTo(px,a.top+L); ctx.stroke(); }
  ctx.restore(); } };
const annoPlugin = { id:'anno', afterDatasetsDraw(chart, args, o){
  if(!o || !o.items) return; const {ctx, scales:{x,y}} = chart;
  for(const it of o.items){
    ctx.save(); ctx.fillStyle=it.c; ctx.strokeStyle=it.c;
    ctx.font='bold '+(o.size||15)+'px '+FONT; ctx.textAlign='center'; ctx.textBaseline='middle';
    ctx.fillText(it.t, x.getPixelForValue(it.tx), y.getPixelForValue(it.ty));
    const x0=x.getPixelForValue(it.a[0]), y0=y.getPixelForValue(it.a[1]), x1=x.getPixelForValue(it.a[2]), y1=y.getPixelForValue(it.a[3]);
    ctx.lineWidth=2.2; ctx.beginPath(); ctx.moveTo(x0,y0); ctx.lineTo(x1,y1); ctx.stroke();
    const ang=Math.atan2(y1-y0,x1-x0), h=9;
    ctx.beginPath(); ctx.moveTo(x1,y1); ctx.lineTo(x1-h*Math.cos(ang-0.42), y1-h*Math.sin(ang-0.42)); ctx.lineTo(x1-h*Math.cos(ang+0.42), y1-h*Math.sin(ang+0.42)); ctx.closePath(); ctx.fill();
    ctx.restore(); } } };

// ---------------- C 1s PANELS ----------------
const annoA = [
 {t:'C-C(sp³)', c:GREEN, tx:286.83, ty:55.0, a:[286.03,52.5,285.27,44.0]},
 {t:'C-C(sp²)/C-H', c:RED, tx:282.44, ty:29.1, a:[283.5,25.6,284.26,16.2]},
 {t:'C-O', c:BLUE, tx:287.89, ty:16.7, a:[287.63,14.3,286.85,5.7]},
 {t:'C=O', c:CYAN, tx:288.98, ty:13.8, a:[288.62,9.9,287.91,1.3]}];
const annoB = [
 {t:'C-C(sp³)', c:GREEN, tx:286.74, ty:41.5, a:[286.05,38.5,285.28,29.9]},
 {t:'C-C(sp²)/C-H', c:RED, tx:282.47, ty:29.3, a:[283.54,25.3,284.25,16.4]},
 {t:'C-O', c:BLUE, tx:287.9, ty:16.4, a:[287.35,14.4,286.91,5.4]},
 {t:'C=O', c:CYAN, tx:288.98, ty:13.5, a:[288.63,9.6,287.94,1.5]},
 {t:'Si-C (Si-C-H)', c:PURPLE, tx:282.03, ty:13.5, a:[282.89,10.0,283.29,0.6]}];
function annoRow(sp3y, sp3end, sicEnd){ return [
 {t:'C-C(sp³)', c:GREEN, tx:286.55, ty:sp3y, a:[286.05,sp3y-3,285.45,sp3end]},
 {t:'C-C(sp²)/C-H', c:RED, tx:282.45, ty:29, a:[283.45,25.5,284.05,20]},
 {t:'C-O', c:BLUE, tx:287.9, ty:16.4, a:[287.4,13.2,286.55,0.8]},
 {t:'C=O', c:CYAN, tx:288.98, ty:13.5, a:[288.63,9.6,287.7,0.5]},
 {t:'Si-C (Si-C-H)', c:PURPLE, tx:282.03, ty:13.5, a:[282.89,10,283.28,sicEnd]}]; }
const annoC = annoRow(24, 9, 1.5), annoD = annoRow(24, 6, 1.8), annoE = annoRow(22, 2, 2), annoF = annoRow(22, 2, 0.8);

const c1sPanels = [
 {title:panelTitles[0], col:0,row:0, base:16.6, raw:rawA, fit:fitA, sp3:sp3A, sp2:sp2A, co:coA, c2o:c2oA, sic:null, band:bandA, anno:annoA},
 {title:panelTitles[1], col:1,row:0, base:16.9, raw:rawB, fit:fitB, sp3:sp3B, sp2:sp2B, co:coB, c2o:c2oB, sic:sicB, band:bandB, anno:annoB},
 {title:panelTitles[2], col:0,row:1, base:17, raw:rawC, fit:fitC, sp3:sp3C, sp2:sp2C, co:coC, c2o:c2oC, sic:sicC, band:bandC, anno:annoC},
 {title:panelTitles[3], col:1,row:1, base:17, raw:rawD, fit:fitD, sp3:sp3D, sp2:sp2D, co:coD, c2o:c2oD, sic:sicD, band:bandD, anno:annoD},
 {title:panelTitles[4], col:0,row:2, base:17, raw:rawE, fit:fitE, sp3:sp3E, sp2:sp2E, co:coE, c2o:c2oE, sic:sicE, band:bandE, anno:annoE},
 {title:panelTitles[5], col:1,row:2, base:17, raw:rawF, fit:fitF, sp3:sp3F, sp2:sp2F, co:coF, c2o:c2oF, sic:sicF, band:bandF, anno:annoF}
];

function c1sPanel(p){
  const left=p.col*676, top=70+654*p.row, dy=654*p.row;
  const fL=[90,756][p.col], fR=[659,1329][p.col];
  const cv=mkCanvas(left, top, 676, 590);
  const rawX=grid(292,0.1,p.raw.length), fitX=grid(292,0.2,p.fit.length), cX=grid(289.2,0.2,37);
  const ds=[];
  ds.push({label:'fitted', data:pts(fitX,p.fit), borderColor:'#2b2b2b', borderWidth:2.2, pointRadius:0, cubicInterpolationMode:'monotone', fill:false, order:0});
  ds.push({label:'raw data', data:pts(rawX,p.raw), showLine:false, pointRadius:5.5, pointBorderWidth:1.3, pointBorderColor:'rgba(70,70,70,0.9)', pointBackgroundColor:'rgba(255,255,255,0.72)', order:1});
  [['c2o',p.c2o,2],['co',p.co,3],['sp3',p.sp3,4],['sp2',p.sp2,5],['sic',p.sic,6]].forEach(([k,arr,o])=>{
    if(!arr) return;
    ds.push({label:k, data:pts(cX,arr), borderColor:compStyle[k].line, backgroundColor:compStyle[k].fill, borderWidth:1.2, pointRadius:0, cubicInterpolationMode:'monotone', fill:'origin', order:o});
  });
  new Chart(cv,{type:'line', data:{datasets:ds}, plugins:[bandPlugin,framePlugin,annoPlugin], options:{
    responsive:false, animation:false, devicePixelRatio:1, events:[],
    layout:{padding:{left:fL-left, right:left+676-fR, top:22, bottom:0}},
    plugins:{legend:{display:false}, tooltip:{enabled:false}, band:{range:p.band, color:'rgb(255,233,168)'},
      frame:{major:2, minor:0.4, majorLen:10, minorLen:5}, anno:{items:p.anno, size:15}},
    scales:{
      x:{type:'linear', min:280, max:292, reverse:true, grid:{display:false, drawTicks:false}, border:{display:false},
        afterBuildTicks:s=>{ s.ticks=c1sTicks.map(v=>({value:v})); },
        ticks:{font:{size:20,family:FONT}, color:'#6a6a6a', padding:4, maxRotation:0, autoSkip:false},
        title:{display:true, text:'Binding Energy [eV]', font:{size:30,weight:'bold',family:FONT}, color:'#111', padding:{top:0,bottom:29}},
        afterFit:s=>{ s.height=111; s.paddingLeft=0; s.paddingRight=0; }},
      y:{type:'linear', display:false, min:-p.base, max:100-p.base}
    }}});
  txt(p.title, [34,693][p.col], 54.5+dy, 35, {bold:true});
  txt('C 1s', fL+16, 136+dy, 31, {bold:true});
  txt('Intensity [a.u.]', fL-36, 288+dy, 30, {bold:true, center:true, rot:true});
  box(fR-166, 134+dy-1.5, 35, 3, {background:'#444'});
  box(fR-155, 161+dy-7, 14, 14, {border:'2px solid #555', borderRadius:'50%', boxSizing:'border-box', background:'#fff'});
  txt('fitted', fR-120, 132+dy, 26, {bold:true, color:'#4d4d4d'});
  txt('raw data', fR-120, 161+dy, 26, {bold:true, color:'#4d4d4d'});
}
c1sPanels.forEach(c1sPanel);

// ---------------- Si 2p / O 1s PANELS ----------------
function specPanel(p){
  const cv=mkCanvas(p.left, p.top, 676, p.h);
  const X=grid(p.start, p.step, p.series[0].length);
  const ds=p.series.map((arr,i)=>({label:siLabels[i], data:pts(X,arr), borderColor:seriesColors[i], borderWidth:2, pointRadius:0, tension:0, fill:false, order:20-i}));
  p.refs.forEach(v=>ds.push({label:'ref', data:[{x:v,y:100},{x:v,y:0}], borderColor:REFRED, borderWidth:5, borderDash:[22,11], pointRadius:0, fill:false, order:0}));
  new Chart(cv,{type:'line', data:{datasets:ds}, plugins:[framePlugin], options:{
    responsive:false, animation:false, devicePixelRatio:1, events:[],
    layout:{padding:{left:p.padL, right:p.padR, top:p.padT, bottom:0}},
    plugins:{legend:{display:false}, tooltip:{enabled:false}, frame:{major:p.major, minor:p.minor, majorLen:9, minorLen:5}},
    scales:{
      x:{type:'linear', min:p.min, max:p.max, reverse:true, grid:{display:false, drawTicks:false}, border:{display:false},
        afterBuildTicks:s=>{ s.ticks=p.ticks.map(v=>({value:v})); },
        ticks:{font:{size:p.tickSize,family:FONT}, color:'#6a6a6a', padding:6, maxRotation:0, autoSkip:false},
        title:{display:true, text:'Binding Energy [eV]', font:{size:p.titleSize,weight:'bold',family:FONT}, color:'#111', padding:{top:0,bottom:p.titlePad}},
        afterFit:s=>{ s.height=p.scaleH; s.paddingLeft=0; s.paddingRight=0; }},
      y:{type:'linear', display:false, min:0, max:100}
    }}});
}
specPanel({left:0, top:1995, h:522, padL:122, padR:17, padT:16, scaleH:76, tickSize:16, titleSize:25, titlePad:11,
  min:98, max:106, major:1, minor:0.2, ticks:si2pTicks, start:106, step:0.1,
  series:[si2p0,si2p5,si2p7,si2p9,si2p17,si2p20], refs:si2pRefs});
specPanel({left:676, top:2015, h:502, padL:147, padR:27, padT:17, scaleH:79, tickSize:15, titleSize:24, titlePad:7,
  min:525, max:540, major:2, minor:0.4, ticks:o1sTicks, start:540, step:0.2,
  series:[o1s0,o1s5,o1s7,o1s9,o1s17,o1s20], refs:o1sRefs});

// texts for (g)
txt('(g)', 26, 1978, 32, {bold:true});
txt('Si–O', 407, 1993, 33, {color:REFRED, center:true});
txt('Si–O–C', 307, 2045, 33, {color:REFRED, center:true});
txt('Si–C', 520, 2042, 33, {color:REFRED, center:true});
txt('Si 2p', 137, 2052, 27, {bold:true});
txt('Si [at. %]', 151, 2096, 17, {bold:true});
txt('Intensity [a.u.]', 78, 2217, 26, {bold:true, center:true, rot:true});
[2124,2149,2175,2200,2225,2250].forEach((y,i)=>{ box(134, y-1.25, 47, 2.5, {background:seriesColors[i]}); txt(siLabels[i], 203, y, 17, {bold:true}); });
// texts for (h)
txt('(h)', 747, 1985, 32, {bold:true});
txt('Si–O', 1091, 1993, 33, {color:REFRED, center:true});
txt('C–O–C', 988, 2067, 32, {color:REFRED, center:true});
txt('C=O', 1157, 2062, 32, {color:REFRED, center:true});
txt('O 1s', 836, 2071, 25, {bold:true});
txt('Si [at. %]', 1219, 2069, 17, {bold:true});
txt('Intensity [a.u.]', 790, 2205, 25, {bold:true, center:true, rot:true});
box(1205, 2088, 1, 147, {background:'#c8c8c8'});
[2102,2125,2149,2174,2198,2223].forEach((y,i)=>{ box(1207, y-1.25, 44, 2.5, {background:seriesColors[i]}); txt(siLabels[i], 1269, y, 17, {bold:true}); });
</script>
</body></html>
